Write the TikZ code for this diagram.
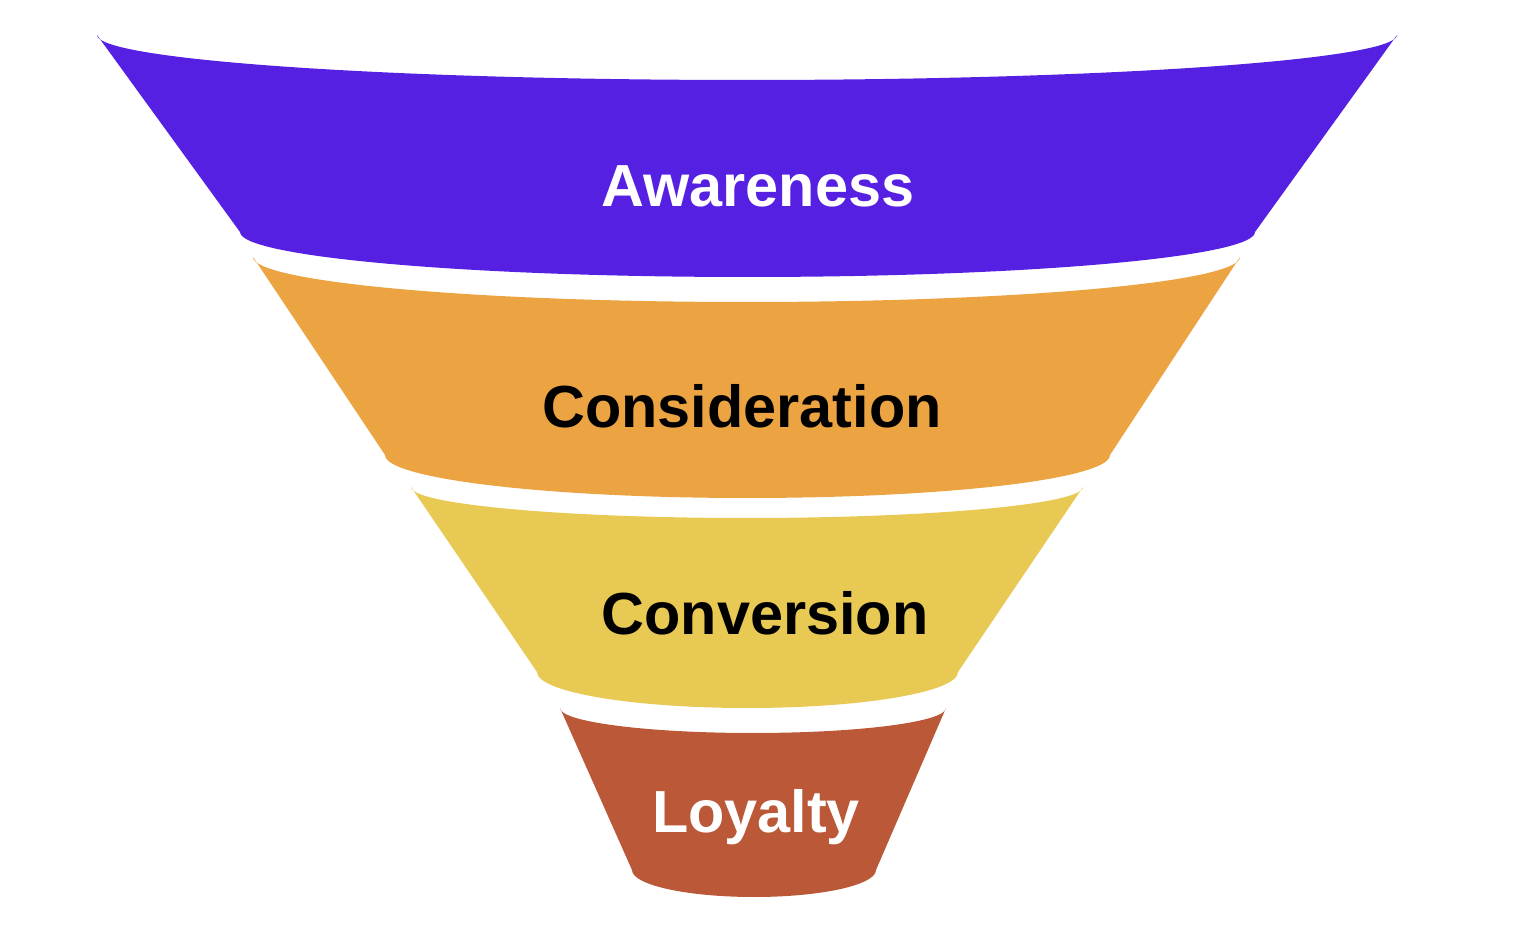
\documentclass[tikz,border=0pt]{standalone}
\usepackage{fontspec}
\setmainfont{Liberation Sans}
\usetikzlibrary{positioning}
\definecolor{awarecol}{HTML}{5620E3}
\definecolor{considercol}{HTML}{ECA443}
\definecolor{convertcol}{HTML}{E8C953}
\definecolor{loyalcol}{HTML}{BA5837}

\begin{document}
\begin{tikzpicture}[x=0.5pt,y=0.5pt]
\tikzstyle{lbl}=[anchor=base,inner sep=0pt,font=\fontsize{29.7}{34}\selectfont\bfseries]
\useasboundingbox (0,0) rectangle (1516,-940);
% top band
\fill[awarecol] (97,-35) arc[start angle=180,end angle=360,x radius=650,y radius=45]
    -- (1255,-232) arc[start angle=0,end angle=-180,x radius=507.5,y radius=45] -- cycle;
% second band
\fill[considercol] (253,-257) arc[start angle=180,end angle=360,x radius=493.5,y radius=45]
    -- (1110,-455) arc[start angle=0,end angle=-180,x radius=362.5,y radius=43] -- cycle;
% third band
\fill[convertcol] (411,-487) arc[start angle=180,end angle=360,x radius=336,y radius=31]
    -- (958,-672) arc[start angle=0,end angle=-180,x radius=210.5,y radius=36] -- cycle;
% bottom band
\fill[loyalcol] (560,-708) arc[start angle=180,end angle=360,x radius=193,y radius=25]
    -- (876,-870) arc[start angle=0,end angle=-180,x radius=122,y radius=27] -- cycle;

\node[lbl,text=white] (Aware) at (758,-207) {Awareness};
\node[lbl,text=black] (Consider) at (742,-428) {Consideration};
\node[lbl,text=black] (Convert) at (765,-635) {Conversion};
\node[lbl,text=white] (Loyal) at (756,-832) {Loyalty};
\end{tikzpicture}
\end{document}
